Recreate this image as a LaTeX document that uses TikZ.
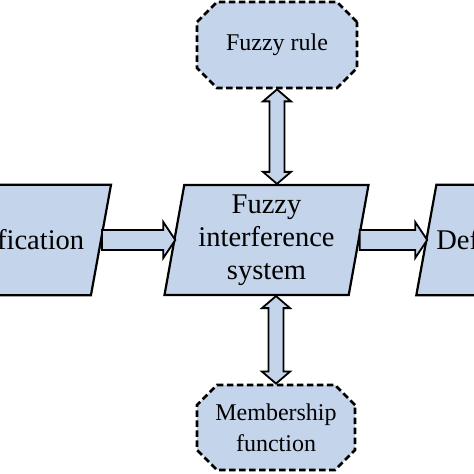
\documentclass[tikz,border=0pt]{standalone}
\usepackage{fontspec}
\setmainfont{Liberation Serif}
\usepackage{tikz}
\usetikzlibrary{shapes.geometric,shapes.misc,calc}
\definecolor{boxblue}{RGB}{196,212,234}

\tikzset{
  para/.style={trapezium, trapezium left angle=79.7, trapezium right angle=100.3,
    trapezium stretches body=true, draw, line width=2.2pt, fill=boxblue,
    minimum width=204pt, minimum height=110pt, inner xsep=0pt, inner ysep=45pt,
    align=center, font=\fontsize{28.5}{33}\selectfont},
  dashbox/.style={chamfered rectangle, chamfered rectangle xsep=10pt,
    chamfered rectangle ysep=10pt, draw, dash pattern=on 6.5pt off 3.5pt,
    line width=2.8pt, fill=boxblue, minimum width=160pt, minimum height=86pt,
    inner sep=0pt, align=center, font=\fontsize{24}{31}\selectfont},
  onearrow/.style={draw, line width=1.8pt, fill=boxblue, line join=miter,
    to path={let \p1=(\tikztostart), \p2=(\tikztotarget),
      \n1={atan2(\y2-\y1,\x2-\x1)}, \n2={veclen(\x2-\x1,\y2-\y1)} in
      {[shift={(\p1)}, rotate=\n1]
       (0,10) -- (\n2-10,10) -- (\n2-10,18) -- (\n2+2,0) -- (\n2-10,-18)
       -- (\n2-10,-10) -- (0,-10) -- cycle}}},
  twoarrow/.style={draw, line width=1.8pt, fill=boxblue, line join=miter,
    to path={let \p1=(\tikztostart), \p2=(\tikztotarget),
      \n1={atan2(\y2-\y1,\x2-\x1)}, \n2={veclen(\x2-\x1,\y2-\y1)} in
      {[shift={(\p1)}, rotate=\n1]
       (0,0) -- (12,14) -- (12,7.5) -- (\n2-12,7.5) -- (\n2-12,14) -- (\n2,0)
       -- (\n2-12,-14) -- (\n2-12,-7.5) -- (12,-7.5) -- (12,-14) -- cycle}}}
}

\begin{document}
\begin{tikzpicture}[x=1pt,y=1pt]
\useasboundingbox (0,0) rectangle (474,474);

% the three stages
\node [para] (fuz) at (9,234) {Fuzzification};
\node [para, inner ysep=9pt] (fis) at (266.5,234) {Fuzzy\\interference\\system};
\node [para] (defuz) at (525,234) {Defuzzification};

% rule base and membership functions
\node [dashbox] (rule) at (277,429) {Fuzzy rule};
\node [dashbox, minimum width=158pt, minimum height=85pt] (mem) at (276,46.5) {Membership\\function};

% arrows between the blocks
\draw [onearrow] (fuz.east) to (fis.west);
\draw [onearrow] (fis.east) to (defuz.west);
\draw [twoarrow] (rule.south) to (rule.south |- fis.north);
\draw [twoarrow] (mem.north |- fis.south) to (mem.north);

\end{tikzpicture}
\end{document}
